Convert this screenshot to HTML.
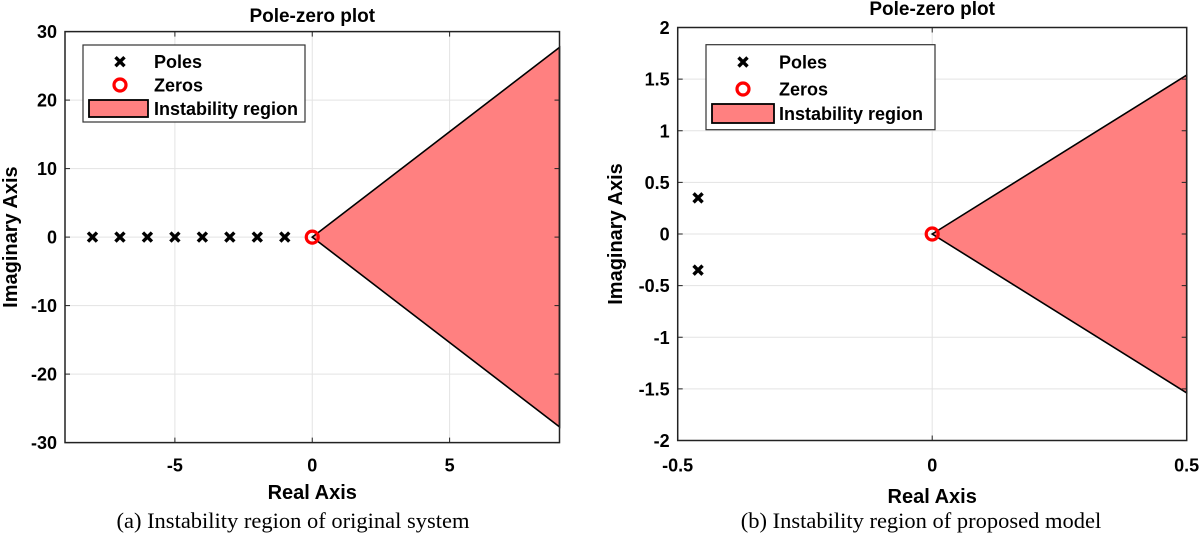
<!DOCTYPE html>
<html><head><meta charset="utf-8"><style>
body{margin:0;background:#fff;}
svg{display:block;}
text{font-family:"Liberation Sans",Arial,sans-serif;font-weight:bold;fill:#000;}
.cap{font-family:"Liberation Serif",serif;font-weight:normal;}
</style></head><body>
<svg id="svg" width="1200" height="539" viewBox="0 0 1200 539"></svg>
<script>
// Panel (a) data
const polesA_re=[-8,-7,-6,-5,-4,-3,-2,-1];
const polesA_im=[0,0,0,0,0,0,0,0];
const zerosA_re=[0];const zerosA_im=[0];
const regionA_re=[0,9,9];const regionA_im=[0,27.7,-27.7];
const xTicksA=[-5,0,5];const yTicksA=[30,20,10,0,-10,-20,-30];
// Panel (b) data
const polesB_re=[-0.46,-0.46];
const polesB_im=[0.35,-0.35];
const zerosB_re=[0];const zerosB_im=[0];
const regionB_re=[0,0.5,0.5];const regionB_im=[0,1.539,-1.539];
const xTicksB=[-0.5,0,0.5];const yTicksB=[2,1.5,1,0.5,0,-0.5,-1,-1.5,-2];

const NS='http://www.w3.org/2000/svg';
const svg=document.getElementById('svg');
function el(tag,attrs,parent){const e=document.createElementNS(NS,tag);for(const k in attrs)e.setAttribute(k,attrs[k]);(parent||svg).appendChild(e);return e;}
function txt(s,attrs,parent){const e=el('text',attrs,parent);e.textContent=s;return e;}

function panel(o){
  const g=el('g',{});
  
  
  const sx=v=>o.x0+(v-o.xmin)/(o.xmax-o.xmin)*(o.x1-o.x0);
  const sy=v=>o.y1-(v-o.ymin)/(o.ymax-o.ymin)*(o.y1-o.y0);
  o.xt.forEach(t=>{const l=el('line',{x1:sx(t),x2:sx(t),y1:o.y0,y2:o.y1,stroke:'#e3e3e3','stroke-width':1},g);
    });
  o.yt.forEach(t=>{const l=el('line',{x1:o.x0,x2:o.x1,y1:sy(t),y2:sy(t),stroke:'#e3e3e3','stroke-width':1},g);
    });
  const pts=o.rre.map((r,i)=>sx(r)+','+sy(o.rim[i])).join(' ');
  const poly=el('polygon',{points:pts,fill:'#ff8080',stroke:'#000','stroke-width':1.6},g);
  
  o.xt.forEach(t=>{el('line',{x1:sx(t),x2:sx(t),y1:o.y1,y2:o.y1-5,stroke:'#222'},g);el('line',{x1:sx(t),x2:sx(t),y1:o.y0,y2:o.y0+5,stroke:'#222'},g);
    const tl=txt(String(t),{x:sx(t),y:o.y1+o.xtd,'font-size':18,'text-anchor':'middle'},g);
    });
  o.yt.forEach(t=>{el('line',{x1:o.x0,x2:o.x0+5,y1:sy(t),y2:sy(t),stroke:'#222'},g);el('line',{x1:o.x1,x2:o.x1-5,y1:sy(t),y2:sy(t),stroke:'#222'},g);
    const tl=txt(String(t),{x:o.x0-8,y:sy(t)+6.5,'font-size':18,'text-anchor':'end'},g);
    });
  const box=el('rect',{x:o.x0,y:o.y0,width:o.x1-o.x0,height:o.y1-o.y0,fill:'none',stroke:'#222','stroke-width':1.5},g);
  
  function cross(cx,cy,parent){return el('path',{d:`M${cx-4.5},${cy-4.5}L${cx+4.5},${cy+4.5}M${cx-4.5},${cy+4.5}L${cx+4.5},${cy-4.5}`,stroke:'#000','stroke-width':3.4},parent);}
  o.pre.forEach((r,i)=>{const p=cross(sx(r),sy(o.pim[i]),g);});
  o.zre.forEach((r,i)=>{const c=el('circle',{cx:sx(r),cy:sy(o.zim[i]),r:6,fill:'none',stroke:'#f00','stroke-width':3.2},g);
    });
  const L=o.leg;
  const lg=el('g',{},g);
  
  el('rect',{x:L.x,y:L.y,width:L.w,height:L.h,fill:'#fff',stroke:'#333','stroke-width':1.2},lg);
  cross(L.x+L.mx,L.r1,lg);
  el('circle',{cx:L.x+L.mx,cy:L.r2,r:6,fill:'none',stroke:'#f00','stroke-width':3.2},lg);
  el('rect',{x:L.x+6,y:L.py,width:L.pw,height:L.ph,fill:'#ff8080',stroke:'#000','stroke-width':1.8},lg);
  const t1=txt('Poles',{x:L.x+L.tx,y:L.r1+6.5,'font-size':18},lg);
  const t2=txt('Zeros',{x:L.x+L.tx,y:L.r2+6.5,'font-size':18},lg);
  const t3=txt('Instability region',{x:L.x+L.tx,y:L.py+L.ph/2+6.5,'font-size':18},lg);
  const cx=(o.x0+o.x1)/2;
  const tt=txt('Pole-zero plot',{x:cx,y:o.ty,'font-size':19,'text-anchor':'middle'},g);
  const xl=txt('Real Axis',{x:cx,y:o.xly,'font-size':20,'text-anchor':'middle'},g);
  const yl=txt('Imaginary Axis',{x:0,y:0,'font-size':20,'text-anchor':'middle',transform:`translate(${o.ylx},${(o.y0+o.y1)/2}) rotate(-90)`},g);
  const cp=txt(o.cap,{x:o.capx,y:528,'font-size':22.5,'text-anchor':'middle',class:'cap'},g);
}
panel({name:'panel-a',x0:65,x1:559.5,y0:31.6,y1:442.6,xmin:-9,xmax:9,ymin:-30,ymax:30,xt:xTicksA,yt:yTicksA,
  pre:polesA_re,pim:polesA_im,zre:zerosA_re,zim:zerosA_im,rre:regionA_re,rim:regionA_im,
  leg:{x:83,y:45,w:222,h:77,mx:37,tx:71,r1:61.7,r2:85,py:100,pw:59,ph:17},
  xtd:29,xly:499,ty:22,ylx:17,capx:293,cap:'(a) Instability region of original system'});
panel({name:'panel-b',x0:677.7,x1:1186.7,y0:27.5,y1:440.5,xmin:-0.5,xmax:0.5,ymin:-2,ymax:2,xt:xTicksB,yt:yTicksB,
  pre:polesB_re,pim:polesB_im,zre:zerosB_re,zim:zerosB_im,rre:regionB_re,rim:regionB_im,
  leg:{x:706,y:44.7,w:229,h:85,mx:37,tx:73,r1:62,r2:89,py:104,pw:62,ph:19},
  xtd:31,xly:503,ty:15,ylx:622,capx:921,cap:'(b) Instability region of proposed model'});
</script>
</body></html>
